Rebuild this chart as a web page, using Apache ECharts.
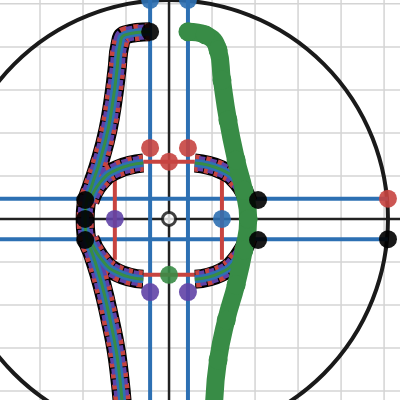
<!DOCTYPE html><html><head><meta charset="utf-8"><script src="https://cdn.jsdelivr.net/npm/echarts@6/dist/echarts.min.js"></script>
<style>html,body{margin:0;padding:0;background:#fff}#c{width:400px;height:400px}</style></head><body><div id="c"></div><script>
const gridX=[-3,-2,-1,1,2,3,4,5];
const gridY=[-4,-3,-2,-1,1,2,3,4,5];
const leftCurve=[[-0.44,4.35],[-1.02,4.28],[-1.14,4.05],[-1.21,3.47],[-1.30,2.77],[-1.42,2.07],[-1.60,1.37],[-1.79,0.79],[-1.93,0.33],[-1.95,0],[-1.93,-0.37],[-1.77,-0.84],[-1.56,-1.53],[-1.37,-2.35],[-1.23,-3.05],[-1.14,-3.74],[-1.09,-4.25]];
const greenCurve=[[0.44,4.35],[0.84,4.28],[1.14,3.93],[1.23,3.23],[1.37,2.30],[1.56,1.37],[1.74,0.67],[1.84,0],[1.74,-0.72],[1.56,-1.53],[1.33,-2.35],[1.14,-3.28],[1.05,-4.25]];
const arcUL=[[-1.84,0.4],[-1.6,0.85],[-1.2,1.15],[-0.6,1.3]];
const arcUR=[[1.84,0.4],[1.6,0.85],[1.2,1.15],[0.6,1.3]];
const arcLL=[[-1.84,-0.45],[-1.6,-0.9],[-1.2,-1.25],[-0.6,-1.4]];
const arcLR=[[1.84,-0.45],[1.6,-0.9],[1.2,-1.25],[0.6,-1.4]];
const blueV=[-0.44,0.44], blueH=[0.47,-0.47];
const bigR=5.09;
const redDots=[[0,1.33],[-0.44,1.65],[0.44,1.65],[5.09,0.47]];
const purpleDots=[[-1.26,0],[-0.44,-1.7],[0.44,-1.7]];
const blueDots=[[1.23,0],[-0.44,5.09],[0.44,5.09]];
const greenDots=[[0,-1.3],[1.84,0]];
const blackDots=[[-1.95,0.44],[2.07,0.44],[-1.95,-0.49],[2.07,-0.49],[5.09,-0.47],[-1.95,0],[-0.44,4.35]];
const X0=-3.93,X1=5.37,Y0=-4.21,Y1=5.09;
const R='#c74440',B='#2d70b3',G='#388c46',P='#6042a6',K='#000';
const s=[];
const seg=(pts,c,w,z)=>s.push({type:'line',data:pts,symbol:'none',lineStyle:{color:c,width:w},z:z||2,silent:true});
gridX.forEach(x=>seg([[x,Y0],[x,Y1]],'#d4d4d4',1.5,1));
gridY.forEach(y=>seg([[X0,y],[X1,y]],'#d4d4d4',1.5,1));
seg([[0,Y0],[0,Y1]],'#222',2.5,1);seg([[X0,0],[X1,0]],'#222',2.5,1);
s.push({type:'custom',z:3,silent:true,data:[[0,0,bigR]],renderItem:(p,api)=>{const c=api.coord([0,0]);const r=api.size([bigR,0])[0];return{type:'circle',shape:{cx:c[0],cy:c[1],r:r},style:{fill:'none',stroke:'#1a1a1a',lineWidth:4}};}});
blueV.forEach(x=>seg([[x,Y0],[x,Y1]],B,4,4));
blueH.forEach(y=>seg([[X0,y],[bigR,y]],B,4,4));
seg([[-1.26,0.9],[-1.26,-0.95]],R,4,4);seg([[1.23,0.9],[1.23,-0.95]],R,4,4);
seg([[-0.6,1.33],[0.6,1.33]],R,4,4);seg([[-0.6,-1.3],[0.6,-1.3]],R,4,4);
const chain=(pts)=>{
 s.push({type:'line',data:pts,smooth:true,symbol:'none',lineStyle:{color:K,width:19},z:5});
 s.push({type:'line',data:pts,smooth:true,symbol:'none',lineStyle:{color:R,width:17,type:[5,6]},z:6});
 s.push({type:'line',data:pts,smooth:true,symbol:'none',lineStyle:{color:P,width:15,type:[6,5],dashOffset:5},z:7});
 s.push({type:'line',data:pts,smooth:true,symbol:'none',lineStyle:{color:B,width:8},z:8});
 s.push({type:'line',data:pts,smooth:true,symbol:'none',lineStyle:{color:G,width:3},z:9});
};
[leftCurve,arcUL,arcUR,arcLL,arcLR].forEach(chain);
s.push({type:'line',data:greenCurve,smooth:true,symbol:'circle',symbolSize:19,itemStyle:{color:G},lineStyle:{color:G,width:18},z:10});
const dots=(d,c)=>s.push({type:'scatter',data:d,symbolSize:18,itemStyle:{color:c,opacity:0.9},z:11});
dots(redDots,R);dots(purpleDots,P);dots(blueDots,B);dots(greenDots,G);dots(blackDots,K);
s.push({type:'scatter',data:[[0,0]],symbolSize:13,itemStyle:{color:'#fff',borderColor:'#111',borderWidth:3},z:12});
echarts.init(document.getElementById('c')).setOption({animation:false,grid:{left:0,right:0,top:0,bottom:0},
xAxis:{type:'value',min:X0,max:X1,show:false},yAxis:{type:'value',min:Y0,max:Y1,show:false},series:s});
</script></body></html>
